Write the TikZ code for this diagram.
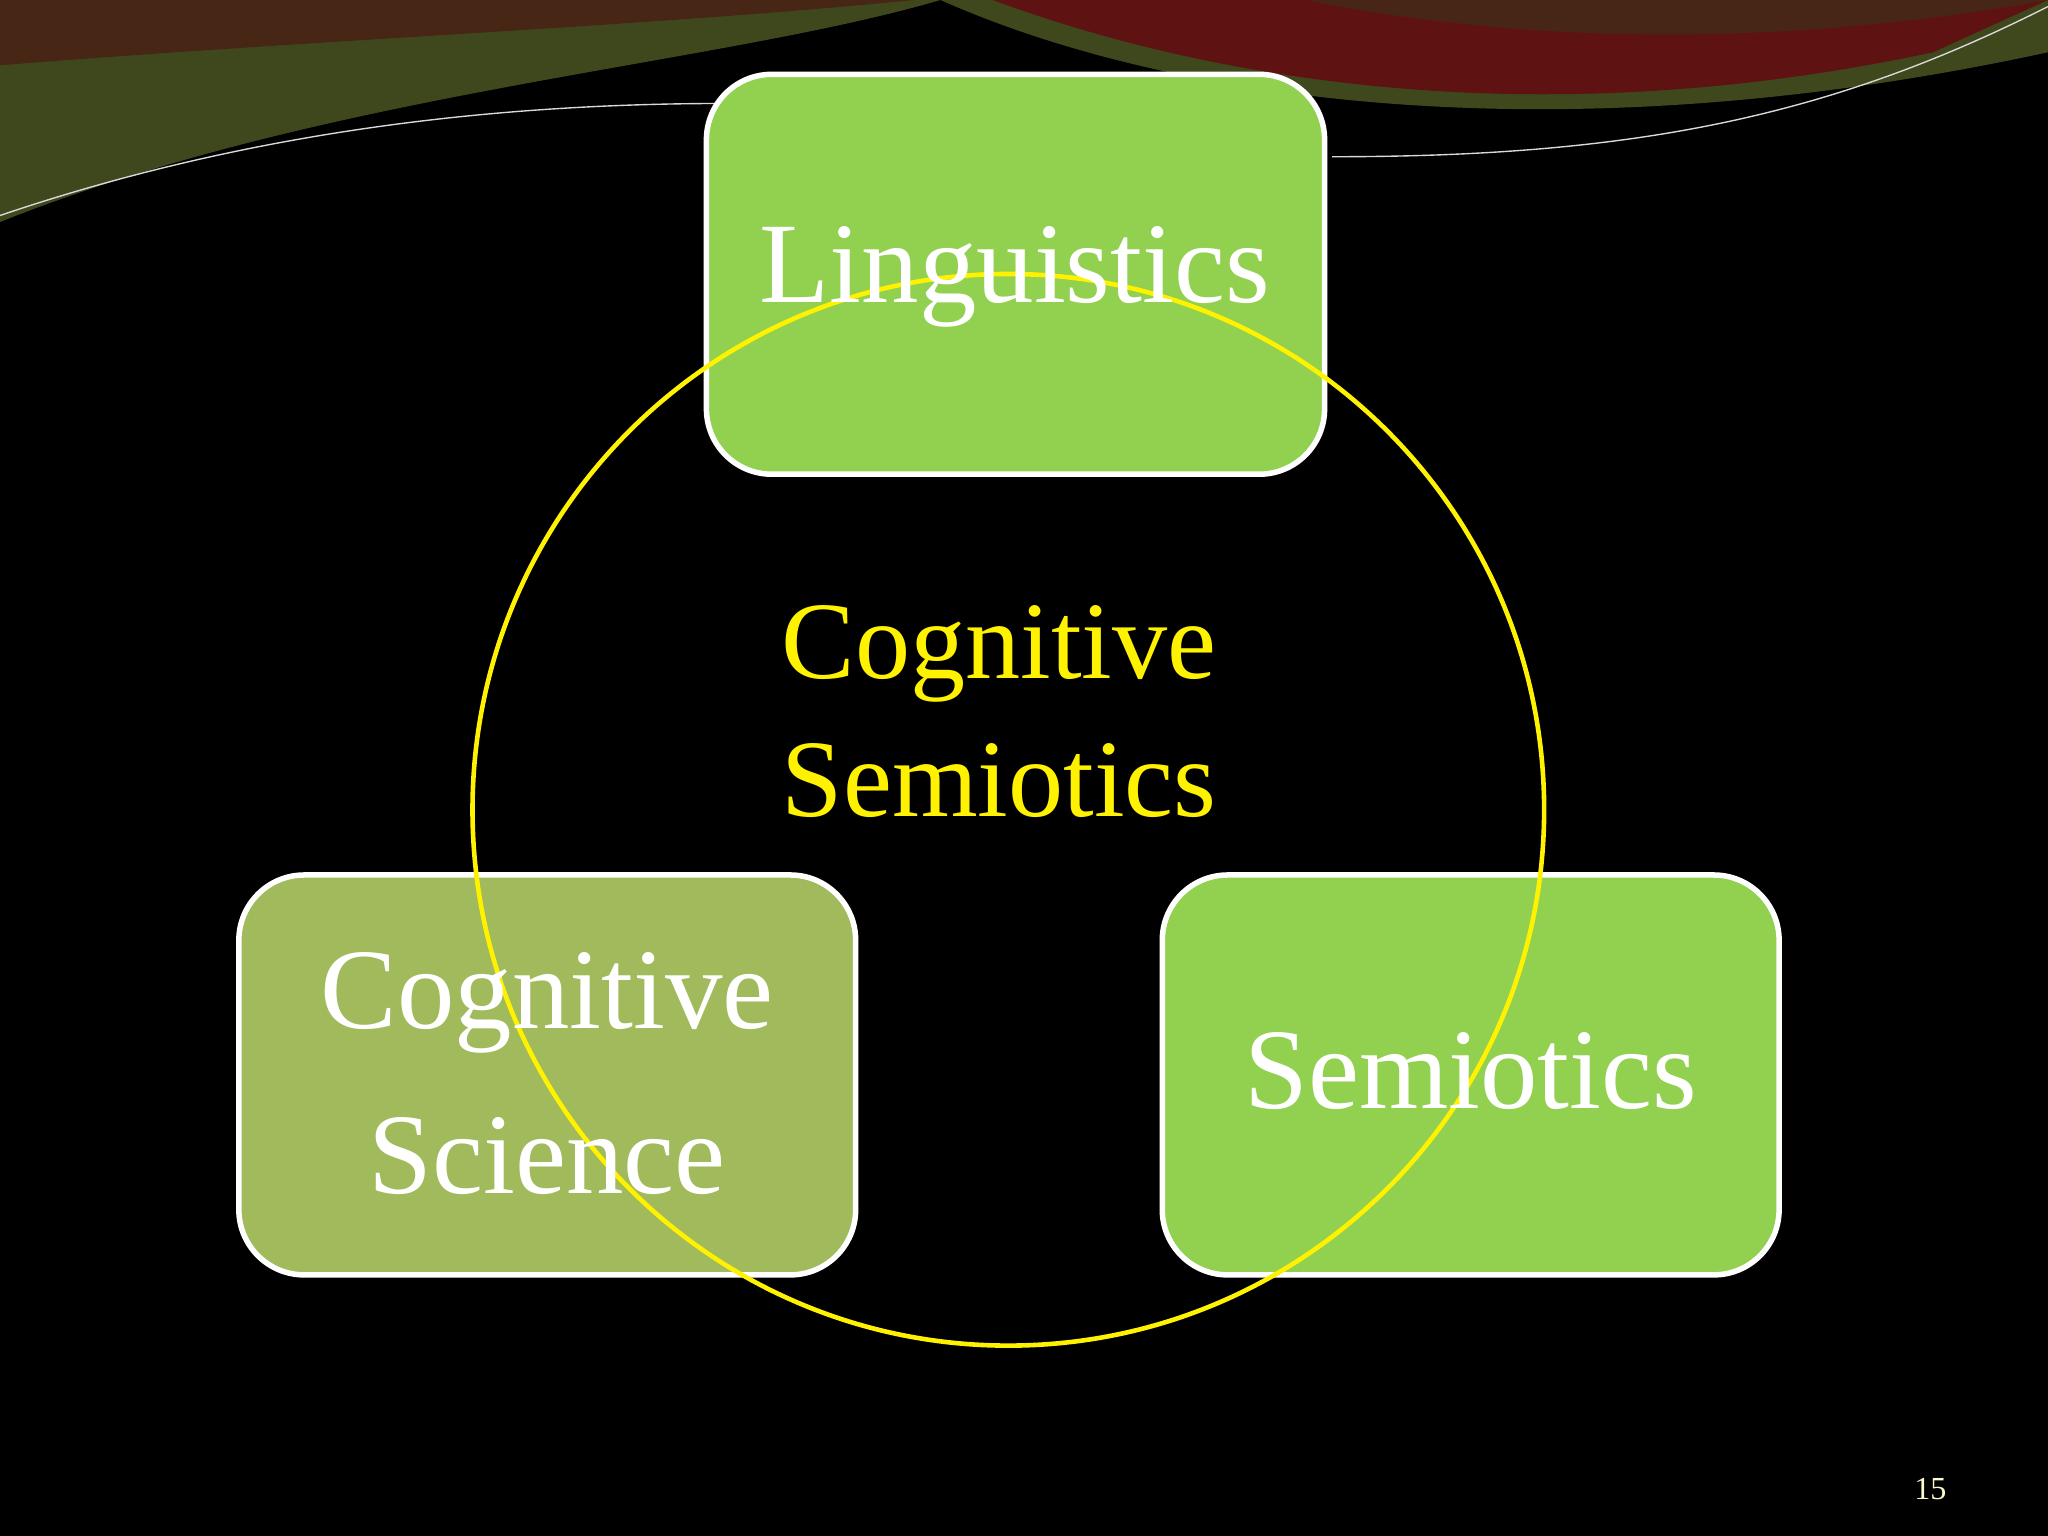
\documentclass[tikz,border=0pt]{standalone}
\usepackage{fontspec}
\setmainfont{Liberation Serif}
\definecolor{dkolive}{RGB}{62,72,28}
\definecolor{dkbrown}{RGB}{72,38,22}
\definecolor{dkred}{RGB}{95,18,18}
\begin{document}
\begin{tikzpicture}[x=0.01cm,y=-0.01cm,
  box/.style={draw=white,line width=1.2pt,rounded corners=0.5cm,inner sep=0pt},
  lab/.style={text=white,font=\fontsize{25}{36}\selectfont,align=center}]
\fill[black] (0,0) rectangle (1568,1176);
\useasboundingbox (0,0) rectangle (1568,1176);
% top decoration
\fill[dkolive] (0,0) -- (720,0) .. controls (550,50) and (250,70) .. (0,170) -- cycle;
\fill[dkbrown] (0,0) -- (700,0) .. controls (500,20) and (250,30) .. (0,50) -- cycle;
\fill[dkolive] (720,0) .. controls (900,80) and (1200,120) .. (1568,40) -- (1568,0) -- cycle;
\fill[dkred] (760,0) .. controls (950,70) and (1200,100) .. (1480,40) -- (1568,0) -- cycle;
\fill[dkbrown] (1000,0) .. controls (1200,40) and (1400,30) .. (1568,0) -- cycle;
\draw[white!70!gray,line width=0.3pt] (0,165) .. controls (250,80) and (500,70) .. (720,85);
\draw[white!70!gray,line width=0.3pt] (1020,120) .. controls (1250,120) and (1400,90) .. (1568,5);
% boxes
\node[box,fill={rgb,255:red,146;green,208;blue,80},minimum width=4.73cm,minimum height=3.06cm] (ling) at (777.5,210) {};
\node[box,fill={rgb,255:red,160;green,186;blue,92},minimum width=4.72cm,minimum height=3.06cm] (cogsci) at (419,823) {};
\node[box,fill={rgb,255:red,146;green,208;blue,80},minimum width=4.72cm,minimum height=3.06cm] (semi) at (1126,823) {};
% circle
\node[draw=yellow,line width=1pt,circle,minimum size=8.2cm,inner sep=0pt] (circ) at (772,620) {};
% labels
\node[lab] (lt) at (777,212) {Linguistics};
\node[lab] (ct) at (419,822) {Cognitive\\[0.0cm]Science};
\node[lab] (st) at (1126,820) {Semiotics};
\node[text=yellow,font=\fontsize{24}{30}\selectfont,align=center] (cs) at (765,545) {Cognitive\\Semiotics};
\node[text=white!80!yellow,font=\fontsize{7}{8}\selectfont] (pg) at (1478,1140) {15};
\end{tikzpicture}
\end{document}
